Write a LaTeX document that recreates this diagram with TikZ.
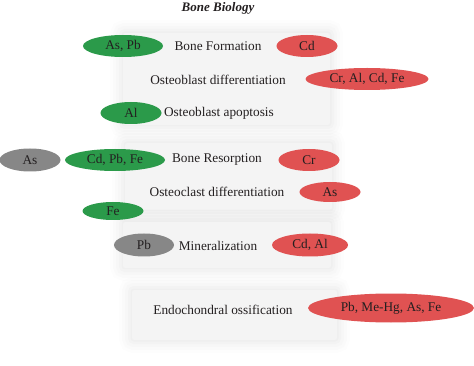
\documentclass[tikz,border=0pt]{standalone}
\usepackage{fontspec}
\setmainfont{Liberation Serif}
\usepackage{tikz}
\usetikzlibrary{shapes.geometric}

\definecolor{upgreen}{HTML}{2B9A4A}
\definecolor{downred}{HTML}{E05252}
\definecolor{neutral}{HTML}{878787}
\definecolor{boxgray}{HTML}{F4F4F4}
\definecolor{ink}{HTML}{231F20}

\begin{document}
\begin{tikzpicture}[
  x=1pt, y=-1pt,
  every node/.style={text=ink, font=\fontsize{13.3}{15}\selectfont},
  panel/.style={fill=boxgray, rounded corners=2pt, inner sep=0pt,
    preaction={draw=black, draw opacity=0.008, line width=26pt, rounded corners=10pt},
    preaction={draw=black, draw opacity=0.01, line width=20pt, rounded corners=8pt},
    preaction={draw=black, draw opacity=0.012, line width=14pt, rounded corners=6pt},
    preaction={draw=black, draw opacity=0.014, line width=8pt, rounded corners=4pt},
    preaction={draw=black, draw opacity=0.014, line width=3pt}},
  lab/.style={inner sep=1pt},
  metal/.style={ellipse, inner sep=0pt, minimum height=22pt},
  up/.style={metal, fill=upgreen},
  down/.style={metal, fill=downred},
  mixed/.style={metal, fill=neutral}
]
\useasboundingbox (0,0) rectangle (474,366);

\node[font=\fontsize{13}{15}\selectfont\bfseries\itshape] (title) at (218,8) {Bone Biology};

% --- panels ---
\node[panel, minimum width=207pt, minimum height=92pt] (formPanel) at (226.5,79) {};
\node[panel, minimum width=207pt, minimum height=67pt] (resPanel) at (228.5,176.5) {};
\node[panel, minimum width=208pt, minimum height=46pt] (minPanel) at (227,245) {};
\node[panel, minimum width=205pt, minimum height=50pt] (endoPanel) at (234.5,315) {};

% --- bone formation ---
\node[lab] (formation) at (218,46) {Bone Formation};
\node[up, minimum width=80pt] (formUp) at (123,46) {As, Pb};
\node[down, minimum width=61pt] (formDown) at (307,46) {Cd};
\node[lab] (blastDiff) at (218,80) {Osteoblast differentiation};
\node[down, minimum width=123pt] (blastDiffDown) at (367,79) {Cr, Al, Cd, Fe};
\node[lab] (blastApo) at (219,113) {Osteoblast apoptosis};
\node[up, minimum width=61pt] (blastApoUp) at (131,113) {Al};

% --- bone resorption ---
\node[lab] (resorption) at (217,160) {Bone Resorption};
\node[mixed, minimum width=61pt, minimum height=23pt] (resMixed) at (30,160) {As};
\node[up, minimum width=100pt] (resUp) at (115,160) {Cd, Pb, Fe};
\node[down, minimum width=61pt] (resDown) at (309,160) {Cr};
\node[lab] (clastDiff) at (217,192) {Osteoclast differentiation};
\node[down, minimum width=61pt, minimum height=20pt] (clastDiffDown) at (330,192) {As};
\node[up, minimum width=61pt, minimum height=18pt] (clastDiffUp) at (113,211) {Fe};

% --- mineralization ---
\node[lab] (mineral) at (218,246) {Mineralization};
\node[mixed, minimum width=60pt, minimum height=23pt] (minMixed) at (144,245) {Pb};
\node[down, minimum width=76pt, minimum height=23pt] (minDown) at (310,245) {Cd, Al};

% --- endochondral ossification ---
\node[lab] (endo) at (223,310) {Endochondral ossification};
\node[down, minimum width=166pt, minimum height=29pt] (endoDown) at (391,308) {Pb, Me-Hg, As, Fe};

\end{tikzpicture}
\end{document}
